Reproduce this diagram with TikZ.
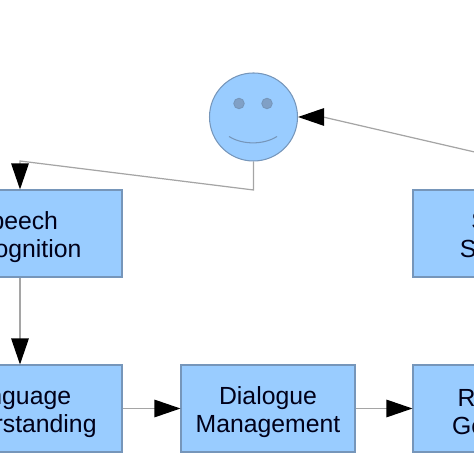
\documentclass[tikz,border=0pt]{standalone}
\usepackage{fontspec}
\setmainfont{Liberation Sans}
\usetikzlibrary{arrows.meta}
\definecolor{cajafondo}{RGB}{153,204,255}
\definecolor{cajaborde}{RGB}{118,150,186}
\definecolor{ojofondo}{RGB}{128,160,198}
\definecolor{linea}{RGB}{165,165,165}
\begin{document}
\begin{tikzpicture}[
  caja/.style={draw=cajaborde, fill=cajafondo, line width=0.6pt,
               minimum height=1.74cm, align=center, inner sep=0pt,
               text height=1.06cm,
               font=\fontsize{14.1}{15.9}\selectfont, text=black!90!blue},
  ojo/.style={circle, draw=cajaborde, fill=ojofondo, line width=0.5pt,
              minimum size=0.21cm, inner sep=0pt},
  flecha/.style={draw=linea, line width=0.7pt,
                 -{Triangle[length=0.52cm, width=0.35cm, black]}}]
  \useasboundingbox (0,0) rectangle (9.48,9.48);
  \clip (0,0) rectangle (9.48,9.48);
  \node[caja, minimum width=4.24cm] (spe) at (0.32,4.81) {Speech\\Recognition};
  \node[caja, minimum width=4.24cm] (lan) at (0.32,1.31) {Language\\Understanding};
  \node[caja, minimum width=3.48cm] (dia) at (5.36,1.31) {Dialogue\\Management};
  \node[caja, minimum width=4.02cm] (res) at (10.27,1.31) {Response\\Generation};
  \node[caja, minimum width=4.02cm] (syn) at (10.27,4.81) {Speech\\Synthesis};
  \node[circle, draw=cajaborde, fill=cajafondo, line width=0.6pt,
        minimum size=1.76cm, inner sep=0pt] (usr) at (5.07,7.14) {};
  \node[ojo] (ojoi) at (4.78,7.41) {};
  \node[ojo] (ojod) at (5.34,7.41) {};
  \coordinate (bocai) at (4.58,6.75);
  \coordinate (bocad) at (5.54,6.75);
  \draw[cajaborde, line width=0.6pt] (bocai) .. controls (4.85,6.58) and (5.27,6.58) .. (bocad);
  \coordinate (codoa) at (5.07,5.68);
  \coordinate (codob) at (0.40,6.26);
  \coordinate (codoc) at (10.27,6.26);
  \coordinate (codod) at (6.46,7.14);
  \draw[flecha] (usr.south) -- (codoa) -- (codob) -- (codob |- spe.north);
  \draw[flecha] (codob |- spe.south) -- (codob |- lan.north);
  \draw[flecha] (lan.east) -- (dia.west);
  \draw[flecha] (dia.east) -- (res.west);
  \draw[flecha] (syn.north) -- (codoc) -- (codod) -- (usr.east);
\end{tikzpicture}
\end{document}
